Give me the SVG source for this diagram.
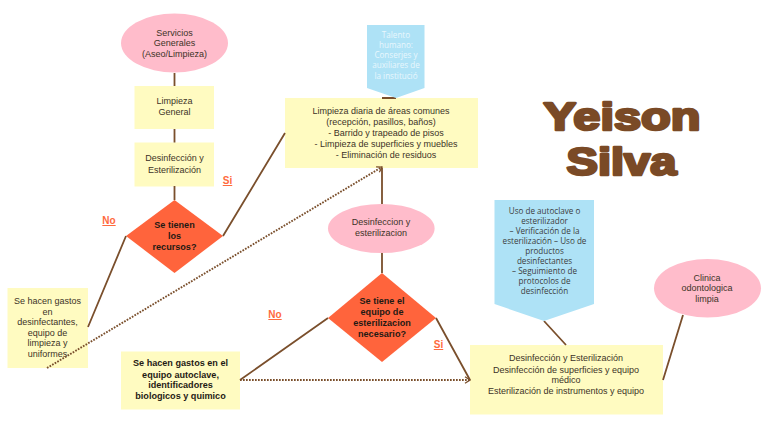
<svg xmlns="http://www.w3.org/2000/svg" width="768" height="431" viewBox="0 0 768 431">
<style>
.t{font-family:"Liberation Sans",Arial,sans-serif;font-size:9px;fill:#3d3327;text-anchor:middle}
.b{font-weight:700;fill:#1f1a14;font-size:9.1px}
.u{font-family:"Liberation Sans",Arial,sans-serif;font-size:10px;font-weight:700;fill:#ff6a3d;text-anchor:middle;text-decoration:underline}
.d{font-family:"Open Sans",sans-serif;font-size:8.1px;text-anchor:middle;fill:#3d3d3d}
.w{fill:#e8f7fd}
.y{fill:#fffbc1}.p{fill:#ffbccb}.o{fill:#ff643c}.c{fill:#aee2f6}
.l{stroke:#7a4f2c;stroke-width:1.8;fill:none}
.s{stroke:#7a4f2c;stroke-width:1.9;fill:none;stroke-dasharray:1.7 1.3}
.title{font-family:"Liberation Sans",Arial,sans-serif;font-weight:700;fill:#7a4a26;stroke:#7a4a26;stroke-width:2.6;stroke-linejoin:round;text-anchor:middle;font-size:38.500px}
</style>
<defs><marker id="a" markerUnits="userSpaceOnUse" markerWidth="7" markerHeight="8" refX="6" refY="4" orient="auto"><path d="M1 .8 6 4 1 7.2" fill="none" stroke="#7a4f2c" stroke-width="1.3"/></marker></defs>
<rect width="768" height="431" fill="#fff"/>
<g id="n1"><ellipse class="p" cx="174.500" cy="43" rx="53.500" ry="29.500"/><text class="t"><tspan x="174.500" y="35.500">Servicios</tspan><tspan x="174.500" y="45.800">Generales</tspan><tspan x="174.500" y="56.800">(Aseo/Limpieza)</tspan></text></g>
<g id="n2"><rect class="y" x="134.500" y="86" width="79.500" height="43"/><text class="t"><tspan x="174.500" y="104">Limpieza</tspan><tspan x="174.500" y="115">General</tspan></text></g>
<g id="n3"><rect class="y" x="134.500" y="142.500" width="79.500" height="44"/><text class="t"><tspan x="174.500" y="161">Desinfección y</tspan><tspan x="174.500" y="172.500">Esterilización</tspan></text></g>
<g id="n4"><path class="o" d="M174.500 200 223 236 174.500 273 126 236Z"/><text class="t b"><tspan x="174.500" y="228">Se tienen</tspan><tspan x="174.500" y="239">los</tspan><tspan x="174.500" y="249.500">recursos?</tspan></text></g>
<g id="n5"><rect class="y" x="7.500" y="288" width="80.500" height="80"/><text class="t"><tspan x="47.500" y="304">Se hacen gastos</tspan><tspan x="47.500" y="314.500">en</tspan><tspan x="47.500" y="325">desinfectantes,</tspan><tspan x="47.500" y="336">equipo de</tspan><tspan x="47.500" y="346">limpieza y</tspan><tspan x="47.500" y="357">uniformes</tspan></text></g>
<g id="n6"><rect class="y" x="121" y="351.500" width="119" height="58"/><text class="t b"><tspan x="180.500" y="366">Se hacen gastos en el</tspan><tspan x="180.500" y="377.500">equipo autoclave,</tspan><tspan x="180.500" y="388">identificadores</tspan><tspan x="180.500" y="398.500">biologicos y quimico</tspan></text></g>
<g id="n8"><rect class="y" x="285" y="98" width="193" height="70"/><text class="t"><tspan x="381" y="114">Limpieza diaria de áreas comunes</tspan><tspan x="381" y="125">(recepción, pasillos, baños)</tspan><tspan x="386" y="136">- Barrido y trapeado de pisos</tspan><tspan x="386" y="146.500">- Limpieza de superficies y muebles</tspan><tspan x="386" y="158">- Eliminación de residuos</tspan></text></g>
<g id="n9"><ellipse class="p" cx="381.300" cy="228.500" rx="53.300" ry="24.500"/><text class="t"><tspan x="381" y="225">Desinfeccion y</tspan><tspan x="381" y="236">esterilizacion</tspan></text></g>
<g id="n10"><path class="o" d="M382 273 436 318 382 362 328 318Z"/><text class="t b"><tspan x="382" y="304">Se tiene el</tspan><tspan x="382" y="315">equipo de</tspan><tspan x="382" y="326">esterilizacion</tspan><tspan x="382" y="336.500">necesario?</tspan></text></g>
<g id="n12"><rect class="y" x="470" y="345" width="193" height="69.500"/><text class="t"><tspan x="566" y="361">Desinfección y Esterilización</tspan><tspan x="566" y="372.500">Desinfección de superficies y equipo</tspan><tspan x="566" y="382.500">médico</tspan><tspan x="566" y="393.500">Esterilización de instrumentos y equipo</tspan></text></g>
<g id="n13"><ellipse class="p" cx="707.500" cy="288.300" rx="53.500" ry="29.300"/><text class="t"><tspan x="707" y="280.500">Clinica</tspan><tspan x="707" y="291">odontologica</tspan><tspan x="707" y="302">limpia</tspan></text></g>
<g id="connectors">
<path class="l" d="M174.500 73V86M174.500 129V142.500M174.500 186V200M126 236 88 327M223 236 285 133M382 168V204M382 253V273M382 98H396M328 318 240 380M436 318 470 380M544 321 566 345M683 315 663 380"/>
<path class="s" d="M47 368 382 167" marker-end="url(#a)"/>
<path class="s" d="M240 380H470" marker-end="url(#a)"/>
</g>
<g id="n7"><path class="c" d="M367 25H424.500V88L396 98 367 88Z"/><text class="d w"><tspan x="396" y="38">Talento</tspan><tspan x="396" y="48">humano:</tspan><tspan x="396" y="58">Conserjes y</tspan><tspan x="396" y="68">auxiliares de</tspan><tspan x="396" y="79">la institució</tspan></text></g>
<g id="n11"><path class="c" d="M494.500 200H594V304L544 321 494.500 304Z"/><text class="d"><tspan x="544.500" y="214">Uso de autoclave o</tspan><tspan x="544.500" y="224">esterilizador</tspan><tspan x="544.500" y="234">– Verificación de la</tspan><tspan x="544.500" y="244">esterilización – Uso de</tspan><tspan x="544.500" y="254">productos</tspan><tspan x="544.500" y="264">desinfectantes</tspan><tspan x="544.500" y="274">– Seguimiento de</tspan><tspan x="544.500" y="284">protocolos de</tspan><tspan x="544.500" y="294">desinfección</tspan></text></g>
<text class="u" x="227.500" y="184">Si</text>
<text class="u" x="109" y="224">No</text>
<text class="u" x="275" y="318">No</text>
<text class="u" x="438.500" y="348">Si</text>
<text class="title" x="622" y="130" textLength="157" lengthAdjust="spacingAndGlyphs">Yeison</text>
<text class="title" x="621.500" y="174.500" textLength="110" lengthAdjust="spacingAndGlyphs">Silva</text>
</svg>
